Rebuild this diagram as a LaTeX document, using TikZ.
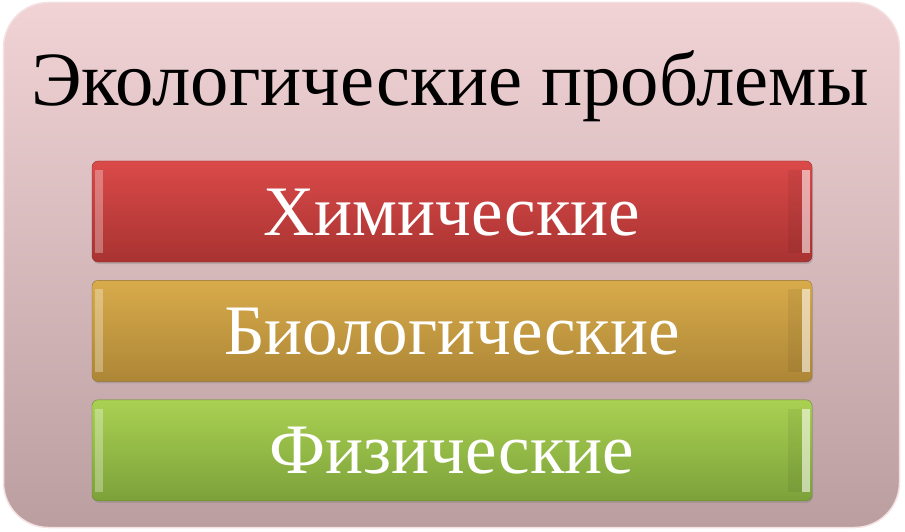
\documentclass[tikz,border=0pt]{standalone}
\usepackage{fontspec}
\setmainfont{Liberation Serif}
\usetikzlibrary{positioning, shadows}

\definecolor{frametop}{HTML}{F1D3D6}
\definecolor{framebot}{HTML}{BA9EA0}
\definecolor{chemtop}{HTML}{DA4A49}
\definecolor{chembot}{HTML}{A83331}
\definecolor{biotop}{HTML}{D8AB4B}
\definecolor{biobot}{HTML}{AD8636}
\definecolor{phystop}{HTML}{AAD152}
\definecolor{physbot}{HTML}{7CA13A}

\tikzset{
  bar/.style={rectangle, rounded corners=6pt, minimum width=720pt, minimum height=101pt,
              text height=47pt, text depth=0pt, text=white,
              font=\fontsize{71}{71}\selectfont,
              drop shadow={shadow xshift=1pt, shadow yshift=-2pt, opacity=.35},
              path picture={
                \fill [sharp corners, white, opacity=.30] ([xshift=3pt, yshift=-9pt]path picture bounding box.north west)
                                   rectangle ([xshift=11pt, yshift=9pt]path picture bounding box.south west);
                \fill [sharp corners, black, opacity=.06] ([xshift=-24pt, yshift=-9pt]path picture bounding box.north east)
                                   rectangle ([xshift=-10pt, yshift=9pt]path picture bounding box.south east);
                \fill [sharp corners, white, opacity=.55] ([xshift=-10pt, yshift=-9pt]path picture bounding box.north east)
                                   rectangle ([xshift=-2pt, yshift=9pt]path picture bounding box.south east);
              }},
}

\begin{document}
\begin{tikzpicture}[x=1pt, y=-1pt]

\useasboundingbox (0,0) rectangle (905,532);

\node [draw=frametop!70!white, line width=1.5pt, rectangle, rounded corners=45pt,
       minimum width=896pt, minimum height=525pt, top color=frametop, bottom color=framebot] (frame) at (451.5,265) {};

\node [anchor=base, font=\fontsize{76.7}{77}\selectfont                              ] (title) at (450,106) {Экологические проблемы};

\node [bar, draw=chembot!85!black, top color=chemtop, bottom color=chembot            ] (chem) at (452,211.5) {Химические};
\node [bar, draw=biobot!85!black , top color=biotop , bottom color=biobot , below=18pt of chem] (bio)  {Биологические};
\node [bar, draw=physbot!85!black, top color=phystop, bottom color=physbot, below=18pt of bio ] (phys) {Физические};

\end{tikzpicture}
\end{document}
